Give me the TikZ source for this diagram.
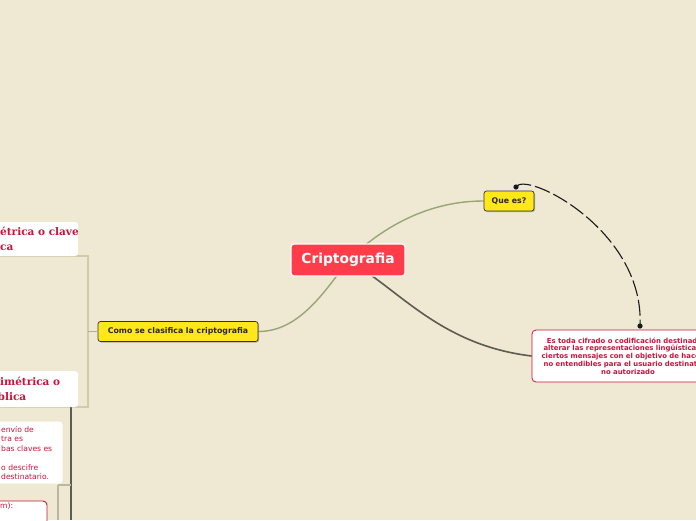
\documentclass[tikz,border=0pt]{standalone}
\usepackage{fontspec}
\newfontfamily\mmsans{DejaVu Sans}
\newfontfamily\mmserif{DejaVu Serif}
\usetikzlibrary{backgrounds,shadows}
\definecolor{paper}{HTML}{EFE8D3}
\definecolor{topicred}{HTML}{FF3D4A}
\definecolor{subyellow}{HTML}{FFE81A}
\definecolor{crimson}{HTML}{C8143C}
\definecolor{olive}{HTML}{98A676}
\definecolor{branch}{HTML}{5C5C50}
\definecolor{frameline}{HTML}{CFCCAE}
\tikzset{
  maintopic/.style={fill=topicred, draw=white, line width=1.2pt, rounded corners=3pt,
    minimum width=114, minimum height=32, text=white,
    font=\mmsans\bfseries\fontsize{13.8}{16}\selectfont},
  subtopic/.style={fill=subyellow, draw=black!80, line width=0.7pt, rounded corners=2.5pt,
    minimum height=20, inner sep=0pt, text=black!85,
    drop shadow={shadow xshift=1pt, shadow yshift=-1pt, opacity=0.45, fill=black!60},
    font=\mmsans\bfseries\fontsize{7.8}{9}\selectfont},
  defbox/.style={fill=white, draw=crimson, line width=0.8pt, rounded corners=4pt,
    minimum width=192, minimum height=52, inner sep=2pt, align=center, text=crimson,
    font=\mmsans\bfseries\fontsize{6.9}{7.75}\selectfont},
  leafbox/.style={fill=white, rounded corners=3pt, inner sep=0pt},
  headtext/.style={anchor=west, inner sep=0pt, align=left, text=crimson,
    font=\mmserif\bfseries\fontsize{10.5}{15}\selectfont},
  bodytext/.style={anchor=west, inner sep=0pt, align=left, text=crimson,
    font=\mmsans\fontsize{7.6}{9.5}\selectfont}
}
\begin{document}
\begin{tikzpicture}[x=1pt,y=-1pt]
  \useasboundingbox (0,0) rectangle (696,520);
  \clip (0,0) rectangle (696,520);

  % main topic and its branches
  \node[maintopic] (core) at (348,260) {Criptografia};
  \node[subtopic, minimum width=50] (que) at (509,201) {Que es?};
  \node[subtopic, minimum width=160] (como) at (178,331.5) {Como se clasifica la criptografia};
  \node[defbox] (def) at (628,356) {Es toda cifrado o codificación destinada a\\
    alterar las representaciones lingüísticas de\\
    ciertos mensajes con el objetivo de hacerlos\\
    no entendibles para el usuario destinatario\\
    no autorizado};

  \begin{scope}[on background layer]
    \fill[paper] (0,0) rectangle (696,520);
    \draw[olive, line width=1.4pt] (core.center) .. controls (385,225) and (430,201) .. (que.west);
    \draw[olive, line width=1.4pt] (core.center) .. controls (320,300) and (295,331.5) .. (como.east);
    \draw[branch, line width=1.6pt] (core.center) .. controls (400,290) and (440,345) .. (def.west);
  \end{scope}

  % link from the question to its answer
  \coordinate (qtop) at (516,187);
  \coordinate (dtop) at (640,326);
  \draw[black!90, line width=1.1pt, dash pattern=on 16pt off 4pt]
    (qtop) .. controls (525,170) and (645,230) .. (dtop);
  \fill[black!90] (qtop) circle (2.6) (dtop) circle (2.6);

  % subtree on the left
  \draw[frameline, line width=1.2pt] (0,256) -- (88,256) -- (88,407) -- (0,407);
  \draw[frameline!85!black, line width=1.2pt] (88,331.5) -- (como.west);
  \draw[branch, line width=2pt] (71,407) -- (71,520);
  \draw[frameline!90!black, line width=1.2pt] (58,485) -- (71,485) (58,485) -- (58,520);

  \node[leafbox, minimum width=92, minimum height=34] (symbox) at (32,239) {};
  \node[headtext] (symtext) at (0,238.5) {étrica o clave\\ca};
  \node[leafbox, minimum width=92, minimum height=36] (asymbox) at (32,389) {};
  \node[headtext] (asymtext) at (0,388.5) {imétrica o\\\kern-2.5pt blica};
  \node[leafbox, minimum width=76, minimum height=62] (notebox) at (24.5,452.5) {};
  \node[bodytext] (notetext) at (1,453) {envío de\\tra es\\bas claves es\\\mbox{}\\o descifre\\destinatario.};
  \node[leafbox, draw=crimson, line width=0.9pt, rounded corners=4pt,
    minimum width=62, minimum height=40] (keybox) at (16,521) {};
  \node[bodytext] (keytext) at (0,506) {m):};
\end{tikzpicture}
\end{document}
